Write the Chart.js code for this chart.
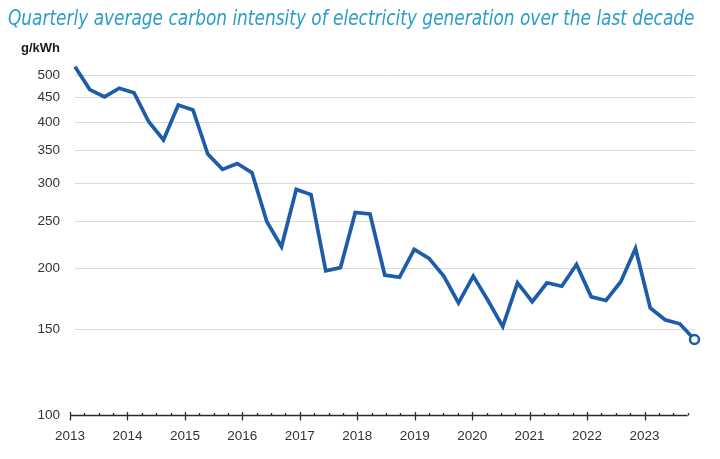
<!DOCTYPE html>
<html>
<head>
<meta charset="utf-8">
<script src="https://cdn.jsdelivr.net/npm/chart.js@4.4.1/dist/chart.umd.min.js"></script>
<style>
  html, body { margin: 0; padding: 0; background: #ffffff; }
  #wrap { width: 720px; height: 459px; position: relative; }
</style>
</head>
<body>
<div id="wrap"><canvas id="c" width="720" height="459"></canvas></div>
<script>
const titleText = 'Quarterly average carbon intensity of electricity generation over the last decade';
const unitLabel = 'g/kWh';

const categories = [
  '2013 Q1','2013 Q2','2013 Q3','2013 Q4',
  '2014 Q1','2014 Q2','2014 Q3','2014 Q4',
  '2015 Q1','2015 Q2','2015 Q3','2015 Q4',
  '2016 Q1','2016 Q2','2016 Q3','2016 Q4',
  '2017 Q1','2017 Q2','2017 Q3','2017 Q4',
  '2018 Q1','2018 Q2','2018 Q3','2018 Q4',
  '2019 Q1','2019 Q2','2019 Q3','2019 Q4',
  '2020 Q1','2020 Q2','2020 Q3','2020 Q4',
  '2021 Q1','2021 Q2','2021 Q3','2021 Q4',
  '2022 Q1','2022 Q2','2022 Q3','2022 Q4',
  '2023 Q1','2023 Q2','2023 Q3'
];

const intensity = [
  520, 467, 451, 470,
  460, 401, 368, 434,
  424, 344, 320, 329,
  315, 250, 222, 291,
  284, 198, 201, 261,
  259, 194, 192, 219,
  210, 193, 170, 193,
  172, 152, 187, 171,
  187, 184, 204, 175,
  172, 188, 220, 166,
  157, 154, 143
];

const yearTicks = [2013, 2014, 2015, 2016, 2017, 2018, 2019, 2020, 2021, 2022, 2023];
const quarterSteps = [0, 0.25, 0.5, 0.75];
const yTicks = [100, 150, 200, 250, 300, 350, 400, 450, 500];

const lineColor = '#1c5ca8';
const lastIndex = intensity.length - 1;

const axisPlugin = {
  id: 'yearAxisMarks',
  afterDraw(chart) {
    const sc = chart.scales.years;
    const ctx = chart.ctx;
    const y = chart.chartArea.bottom + 0.5;
    const vals = sc.ticks.map(t => t.value);
    ctx.save();
    ctx.strokeStyle = '#2b2b2b';
    ctx.lineWidth = 1.4;
    ctx.beginPath();
    ctx.moveTo(sc.getPixelForValue(vals[0]), y);
    ctx.lineTo(sc.getPixelForValue(vals[vals.length - 1]), y);
    ctx.stroke();
    ctx.lineWidth = 1.3;
    vals.forEach(v => {
      const x = Math.round(sc.getPixelForValue(v)) + 0.5;
      ctx.beginPath();
      if (Number.isInteger(v)) { ctx.moveTo(x, y - 3.5); ctx.lineTo(x, y + 5); }
      else { ctx.moveTo(x, y - 2.5); ctx.lineTo(x, y); }
      ctx.stroke();
    });
    // unit label above the y tick labels
    const ys = chart.scales.y;
    ctx.fillStyle = '#1a1a1a';
    ctx.font = 'bold 13px "Liberation Sans", Arial, sans-serif';
    ctx.textAlign = 'right';
    ctx.textBaseline = 'middle';
    ctx.fillText(unitLabel, ys.right - 15, 48.5);
    ctx.restore();
  }
};

new Chart(document.getElementById('c'), {
  type: 'line',
  data: {
    labels: categories,
    datasets: [{
      label: 'Carbon intensity (g/kWh)',
      data: intensity,
      borderColor: lineColor,
      backgroundColor: '#ffffff',
      borderWidth: 3.7,
      tension: 0,
      clip: false,
      pointRadius: ctx => ctx.dataIndex === lastIndex ? 4.5 : 0,
      pointHoverRadius: ctx => ctx.dataIndex === lastIndex ? 4.5 : 0,
      pointBorderWidth: 2.5,
      pointBackgroundColor: '#ffffff',
      pointBorderColor: lineColor
    }]
  },
  options: {
    responsive: false,
    animation: false,
    devicePixelRatio: 1,
    layout: { padding: { left: 8, right: 25.5, top: 0, bottom: 0 } },
    plugins: {
      legend: { display: false },
      tooltip: { enabled: false },
      title: {
        display: true,
        text: titleText,
        align: 'start',
        color: '#2a9dc8',
        font: { family: '"Liberation Sans Narrow", "DejaVu Sans Condensed", sans-serif', size: 21, style: 'italic', weight: 'normal', lineHeight: 1.2 },
        padding: { top: 7, bottom: 22.8 }
      }
    },
    scales: {
      x: {
        type: 'category',
        offset: false,
        display: false
      },
      years: {
        type: 'linear',
        position: 'bottom',
        min: 2013.087,
        max: 2023.87,
        afterBuildTicks: sc => {
          sc.ticks = yearTicks.flatMap(yr => quarterSteps.map(q => ({ value: yr + q })));
        },
        afterFit: sc => { sc.height = 44; },
        grid: { display: false, drawTicks: false, drawOnChartArea: false },
        border: { display: false },
        ticks: {
          autoSkip: false,
          maxRotation: 0,
          minRotation: 0,
          padding: 13,
          color: '#333333',
          font: { family: '"Liberation Sans", Arial, sans-serif', size: 13.5 },
          callback: v => Number.isInteger(v) ? String(v) : ''
        }
      },
      y: {
        type: 'logarithmic',
        min: 100,
        max: 550,
        afterBuildTicks: sc => { sc.ticks = yTicks.map(v => ({ value: v })); },
        afterFit: sc => { sc.width = 67; },
        border: { display: false },
        grid: {
          drawTicks: false,
          color: c => (c.tick && c.tick.value === 100) ? 'rgba(0,0,0,0)' : '#d9d9d9',
          lineWidth: 1
        },
        ticks: {
          autoSkip: false,
          padding: 15,
          color: '#333333',
          font: { family: '"Liberation Sans", Arial, sans-serif', size: 13.5 },
          callback: v => String(v)
        }
      }
    }
  },
  plugins: [axisPlugin]
});
</script>
</body>
</html>
